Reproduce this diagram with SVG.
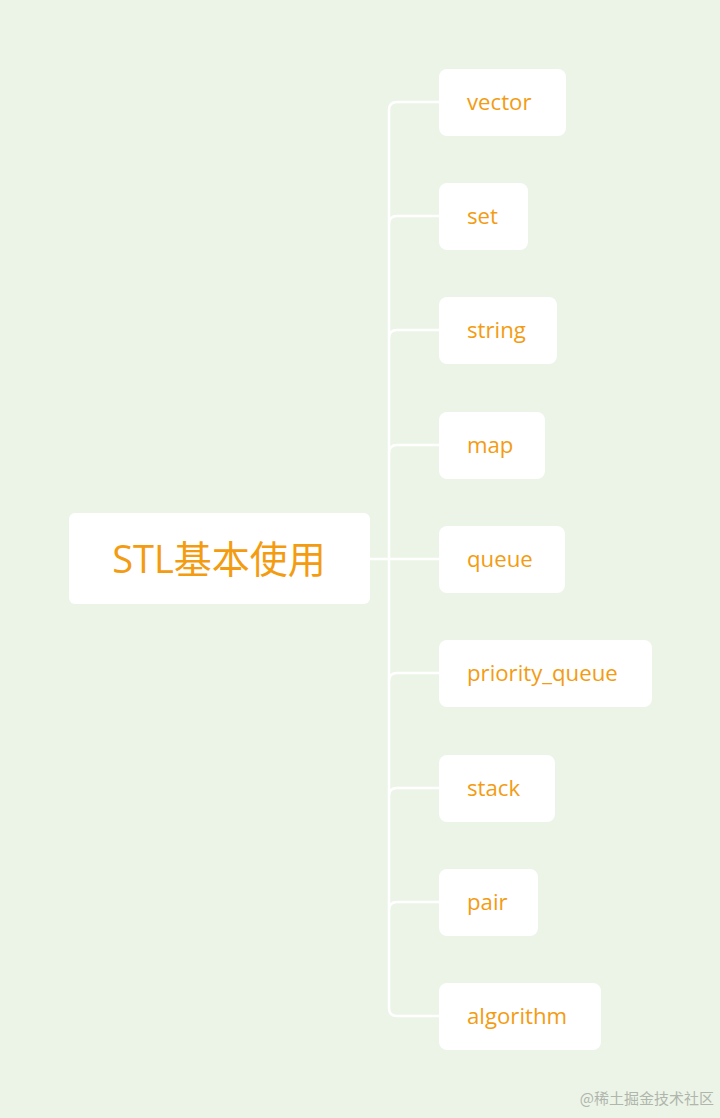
<svg xmlns="http://www.w3.org/2000/svg" width="720" height="1118" viewBox="0 0 720 1118">
<style>
.n{fill:#fff;}
.t{fill:#f39c12;font-family:"Open Sans","Noto Sans",sans-serif;font-size:22.2px;dominant-baseline:central;}
.c{fill:none;stroke:#fff;stroke-width:2.5;}
</style>
<rect width="720" height="1118" fill="#ebf4e6"/>
<g id="connectors" class="c">
<path d="M370 559 H439"/>
<path d="M439 102 H397 Q389 102 389 110 V1008 Q389 1016 397 1016 H439"/>
<path d="M439 216 H397 Q389 216 389 224"/>
<path d="M439 330 H397 Q389 330 389 338"/>
<path d="M439 445 H397 Q389 445 389 453"/>
<path d="M439 673 H397 Q389 673 389 681"/>
<path d="M439 788 H397 Q389 788 389 796"/>
<path d="M439 902 H397 Q389 902 389 910"/>
</g>
<g id="root"><rect class="n" x="69" y="513" width="301" height="91" rx="6"/><text class="t" x="219" y="558" text-anchor="middle" style="font-size:38px;font-family:'Open Sans','Noto Sans CJK SC',sans-serif">STL基本使用</text></g>
<g id="vector"><rect class="n" x="439" y="69" width="127" height="67" rx="8"/><text class="t" x="467" y="101">vector</text></g>
<g id="set"><rect class="n" x="439" y="183" width="89" height="67" rx="8"/><text class="t" x="467" y="215">set</text></g>
<g id="string"><rect class="n" x="439" y="297" width="118" height="67" rx="8"/><text class="t" x="467" y="329">string</text></g>
<g id="map"><rect class="n" x="439" y="412" width="106" height="67" rx="8"/><text class="t" x="467" y="444">map</text></g>
<g id="queue"><rect class="n" x="439" y="526" width="126" height="67" rx="8"/><text class="t" x="467" y="558">queue</text></g>
<g id="priority_queue"><rect class="n" x="439" y="640" width="213" height="67" rx="8"/><text class="t" x="467" y="672">priority_queue</text></g>
<g id="stack"><rect class="n" x="439" y="755" width="116" height="67" rx="8"/><text class="t" x="467" y="787">stack</text></g>
<g id="pair"><rect class="n" x="439" y="869" width="99" height="67" rx="8"/><text class="t" x="467" y="901">pair</text></g>
<g id="algorithm"><rect class="n" x="439" y="983" width="162" height="67" rx="8"/><text class="t" x="467" y="1015">algorithm</text></g>
<text x="714" y="1104" text-anchor="end" fill="#b0b5ad" style="font-family:'Noto Sans CJK SC',sans-serif;font-size:15px">@稀土掘金技术社区</text>
</svg>
